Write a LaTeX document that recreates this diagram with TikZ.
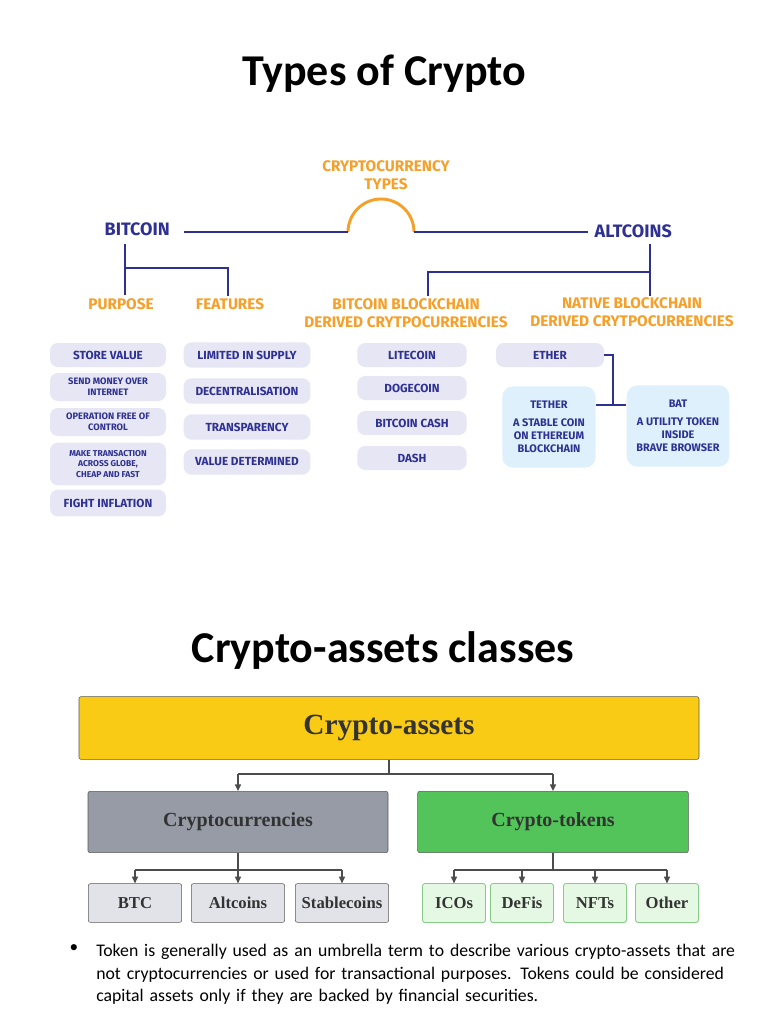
\documentclass[tikz,border=0pt]{standalone}
\usepackage{fontspec}
\setmainfont{Carlito}
\newfontfamily\fira{Fira Sans}
\newfontfamily\lser{Liberation Serif}
\usetikzlibrary{arrows.meta}
\definecolor{navy}{HTML}{2E3192}
\definecolor{org}{HTML}{F5A02A}
\definecolor{pill}{HTML}{E6E6F4}
\definecolor{lblue}{HTML}{DDF0FB}
\definecolor{yel}{HTML}{F9CB14}
\definecolor{gry}{HTML}{969BA5}
\definecolor{grn}{HTML}{52C45A}
\definecolor{lgry}{HTML}{E2E3E8}
\definecolor{lgrn}{HTML}{E5F8E3}
\definecolor{dtxt}{HTML}{333333}
\tikzset{
 ttl/.style={font=\fontsize{33}{38}\selectfont\bfseries},
 org/.style={text=org,font=\fira\fontsize{11.5}{13.5}\selectfont\bfseries,align=center},
 big/.style={text=navy,font=\fira\fontsize{13.5}{15}\selectfont\bfseries},
 pl/.style={fill=pill,rounded corners=6pt,text=navy,font=\fira\fontsize{8.8}{10}\selectfont\bfseries,align=center,minimum height=18pt,inner sep=1pt},
 sm/.style={pl,font=\fira\fontsize{7}{8.2}\selectfont\bfseries},
 lb/.style={fill=lblue,rounded corners=8pt,text=navy,font=\fira\fontsize{8.2}{10}\selectfont\bfseries,align=center,minimum height=61pt,inner sep=1pt},
 nl/.style={draw=navy,line width=2.2pt},
 bx/.style={draw=gray!70!black,rounded corners=1.5pt,font=\lser\bfseries,text=dtxt,inner sep=0pt},
 ar/.style={draw=gray!60!black,line width=0.9pt,-{Triangle[length=5pt,width=4.5pt]}},
 ln/.style={draw=gray!60!black,line width=0.9pt}
}
\begin{document}
\begin{tikzpicture}[x=0.75pt,y=-0.75pt]
\useasboundingbox[fill=white] (0,0) rectangle (768,1024);
\node[ttl] (t1) at (384,74) {Types of Crypto};
\node[ttl] (t2) at (383,651) {Crypto-assets classes};

% top diagram
\node[org] (types) at (386,175) {CRYPTOCURRENCY\\TYPES};
\draw[draw=org,line width=2.2pt] (348,232) arc[start angle=180,end angle=360,radius=33];
\node[big,anchor=west] (btc) at (100,229) {BITCOIN};
\node[big,anchor=west] (alt) at (590,231) {ALTCOINS};
\coordinate (al) at (348,232); \coordinate (ar) at (414,232);
\draw[nl] (184,232) -- (al);
\draw[nl] (ar) -- (588,232);
\node[org] (pur) at (121,304) {PURPOSE};
\node[org] (fea) at (230,304) {FEATURES};
\node[org] (bbd) at (406,313) {BITCOIN BLOCKCHAIN\\DERIVED CRYTPOCURRENCIES};
\node[org] (nbd) at (632,312) {NATIVE BLOCKCHAIN\\DERIVED CRYTPOCURRENCIES};
\draw[nl] (125,244) -- (125,295);
\draw[nl] (125,268) -- (228,268) -- (228,296);
\draw[nl] (650,244) -- (650,296);
\draw[nl] (650,272) -- (428,272) -- (428,296);

\node[pl,minimum width=87pt] (p1) at (108,355) {STORE VALUE};
\node[sm,minimum width=87pt,minimum height=21pt] (p2) at (108,387) {SEND MONEY OVER\\INTERNET};
\node[sm,minimum width=87pt,minimum height=21pt] (p3) at (108,422) {OPERATION FREE OF\\CONTROL};
\node[sm,minimum width=87pt,minimum height=32pt,font=\fira\fontsize{6.4}{7.6}\selectfont\bfseries] (p4) at (108,464) {MAKE TRANSACTION\\ACROSS GLOBE,\\CHEAP AND FAST};
\node[pl,minimum width=87pt,minimum height=20pt] (p5) at (108,503) {FIGHT INFLATION};

\node[pl,minimum width=95pt,minimum height=19pt] (f1) at (247,355) {LIMITED IN SUPPLY};
\node[pl,minimum width=95pt,minimum height=19pt] (f2) at (247,391) {DECENTRALISATION};
\node[pl,minimum width=95pt,minimum height=19pt] (f3) at (247,427) {TRANSPARENCY};
\node[pl,minimum width=95pt,minimum height=19pt] (f4) at (247,462) {VALUE DETERMINED};

\node[pl,minimum width=82pt] (c1) at (412,355) {LITECOIN};
\node[pl,minimum width=82pt] (c2) at (412,388) {DOGECOIN};
\node[pl,minimum width=82pt] (c3) at (412,423) {BITCOIN CASH};
\node[pl,minimum width=82pt] (c4) at (412,458) {DASH};

\node[pl,minimum width=81pt] (eth) at (550,355) {ETHER};
\node[lb,minimum width=70pt] (teth) at (549,427) {TETHER\\[3pt]A STABLE COIN\\ON ETHEREUM\\BLOCKCHAIN};
\node[lb,minimum width=77pt] (bat) at (678,426) {BAT\\[3pt]A UTILITY TOKEN\\INSIDE\\BRAVE BROWSER};
\draw[nl] (eth.east) -- (613,355) -- (613,405);
\draw[nl] (teth.east |- 0,405) -- (bat.west |- 0,405);

% bottom diagram
\node[bx,fill=yel,minimum width=465pt,minimum height=47pt,font=\lser\bfseries\fontsize{22}{26}\selectfont] (ca) at (389,728) {Crypto-assets};
\node[bx,fill=gry,minimum width=225pt,minimum height=46pt,font=\lser\bfseries\fontsize{15}{18}\selectfont] (cc) at (238,822) {Cryptocurrencies};
\node[bx,fill=grn,minimum width=203pt,minimum height=46pt,font=\lser\bfseries\fontsize{15}{18}\selectfont] (ct) at (553,822) {Crypto-tokens};
\tikzset{sb/.style={bx,minimum height=29pt,font=\lser\bfseries\fontsize{12.5}{14}\selectfont}}
\node[sb,fill=lgry,minimum width=70pt] (b1) at (135,903) {BTC};
\node[sb,fill=lgry,minimum width=70pt] (b2) at (238,903) {Altcoins};
\node[sb,fill=lgry,minimum width=70pt] (b3) at (342,903) {Stablecoins};
\node[sb,fill=lgrn,draw=green!40!gray,minimum width=47pt] (g1) at (454,903) {ICOs};
\node[sb,fill=lgrn,draw=green!40!gray,minimum width=47pt] (g2) at (522,903) {DeFis};
\node[sb,fill=lgrn,draw=green!40!gray,minimum width=47pt] (g3) at (595,903) {NFTs};
\node[sb,fill=lgrn,draw=green!40!gray,minimum width=47pt] (g4) at (667,903) {Other};
\draw[ln] (ca.south) -- (389,774) coordinate (j1);
\draw[ln] (cc.north |- j1) -- (ct.north |- j1);
\draw[ar] (cc.north |- j1) -- (cc.north);
\draw[ar] (ct.north |- j1) -- (ct.north);
\draw[ln] (cc.south) -- (cc.south |- 0,870) coordinate (j2);
\draw[ln] (b1.north |- j2) -- (b3.north |- j2);
\foreach \n in {b1,b2,b3} \draw[ar] (\n.north |- j2) -- (\n.north);
\draw[ln] (ct.south) -- (ct.south |- 0,870) coordinate (j3);
\draw[ln] (g1.north |- j3) -- (g4.north |- j3);
\foreach \n in {g1,g2,g3,g4} \draw[ar] (\n.north |- j3) -- (\n.north);

\node[anchor=north west,text width=485pt,align=left,font=\fontsize{13.3}{17}\selectfont,inner sep=0pt] (bul) at (96,944) {Token is generally used as an umbrella term to describe various crypto-assets that are not cryptocurrencies or used for transactional purposes. Tokens could be considered capital assets only if they are backed by financial securities.};
\node[font=\fontsize{13}{17}\selectfont,anchor=north,inner sep=0pt] (dot) at (74,944) {•};
\end{tikzpicture}
\end{document}
